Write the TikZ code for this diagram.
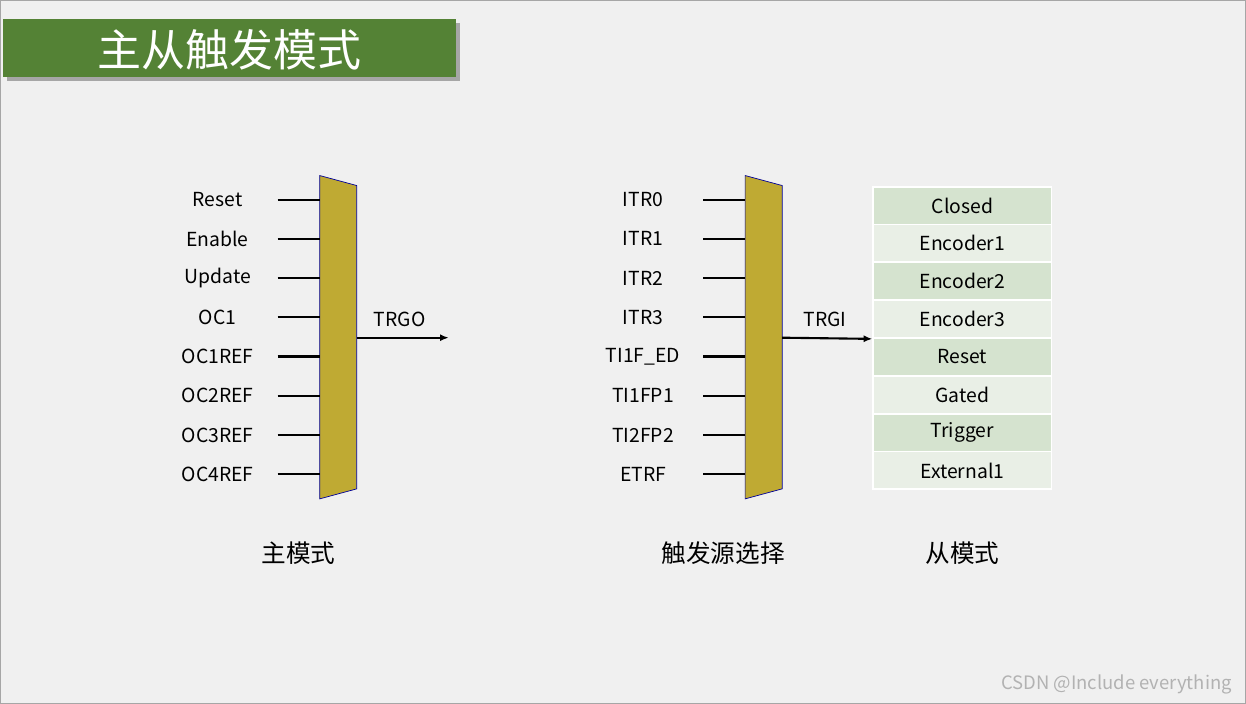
\documentclass[tikz,border=0pt]{standalone}
\usepackage{fontspec}
\setmainfont{Noto Sans CJK SC}
\usetikzlibrary{arrows.meta}
\definecolor{bggray}{HTML}{F0F0F0}
\definecolor{titlegreen}{HTML}{548235}
\definecolor{muxfill}{HTML}{BFAA33}
\definecolor{rowdark}{HTML}{D5E3CF}
\definecolor{rowlight}{HTML}{E9EFE6}
\begin{document}
\begin{tikzpicture}[x=0.02cm,y=-0.02cm]

%-------------------------------------------------
% Styles
%-------------------------------------------------
\tikzset{
  inlabel/.style={font=\fontsize{11}{13}\selectfont, anchor=center},
  inwire/.style={draw=black, line width=1.2pt},
  mux/.style={fill=muxfill, draw=blue!60!black, line width=0.4pt},
  outwire/.style={draw=black, line width=1.2pt, -{Latex[length=5pt,width=4pt]}},
  caption/.style={font=\fontsize{14}{16}\selectfont},
  moderow/.style={draw=white, line width=1pt, minimum width=178*0.02cm, minimum height=37.8*0.02cm, inner sep=0pt, font=\fontsize{11}{13}\selectfont}
}

%-------------------------------------------------
% Background and title
%-------------------------------------------------
\fill[bggray, draw=gray!70] (1,1) rectangle (1245,703);
\fill[black!35] (8,24) rectangle (460,82);
\fill[titlegreen] (4,20) rectangle (456,78);
\node[text=white, font=\fontsize{25}{28}\selectfont] (title) at (230,50) {主从触发模式};

%-------------------------------------------------
% LEFT: master mode
%-------------------------------------------------
\filldraw[mux] (320,176) -- (357,186) -- (357,489) -- (320,499) -- cycle;
\foreach \lbl [count=\k from 0] in {Reset,Enable,Update,OC1,OC1REF,OC2REF,OC3REF,OC4REF} {
  \node[inlabel] (m\k) at (218,200+39.2*\k) {\lbl};
  \coordinate (ma\k) at (278,200+39.2*\k);
  \coordinate (mb\k) at (320,200+39.2*\k);
  \draw[inwire] (ma\k) -- (mb\k);
}
\coordinate (mout) at (357,338);
\coordinate (mend) at (449,338);
\draw[outwire] (mout) -- (mend);
\node[inlabel] (trgo) at (400,320) {TRGO};
\node[caption] (capm) at (299,553) {主模式};

%-------------------------------------------------
% RIGHT: trigger selection
%-------------------------------------------------
\filldraw[mux] (745,176) -- (782,186) -- (782,489) -- (745,499) -- cycle;
\foreach \lbl [count=\k from 0] in {ITR0,ITR1,ITR2,ITR3,TI1F\_ED,TI1FP1,TI2FP2,ETRF} {
  \node[inlabel] (t\k) at (643,200+39.2*\k) {\lbl};
  \coordinate (ta\k) at (703,200+39.2*\k);
  \coordinate (tb\k) at (745,200+39.2*\k);
  \draw[inwire] (ta\k) -- (tb\k);
}
\node[inlabel] (trgi) at (825,320) {TRGI};
\node[caption] (capt) at (723,553) {触发源选择};

%-------------------------------------------------
% Slave mode table
%-------------------------------------------------
\foreach \lbl/\col [count=\k from 0] in {Closed/rowdark,Encoder1/rowlight,Encoder2/rowdark,Encoder3/rowlight,Reset/rowdark,Gated/rowlight,Trigger/rowdark,External1/rowlight} {
  \node[moderow, fill=\col] (s\k) at (962,206+37.8*\k) {\lbl};
}
\coordinate (tout) at (782,338);
\draw[outwire] (tout) -- (s3.south west);
\node[caption] (caps) at (962,553) {从模式};

% watermark
\node[text=gray!60, font=\fontsize{10.5}{12}\selectfont] (wm) at (1116,684) {CSDN @Include everything};

\end{tikzpicture}
\end{document}
